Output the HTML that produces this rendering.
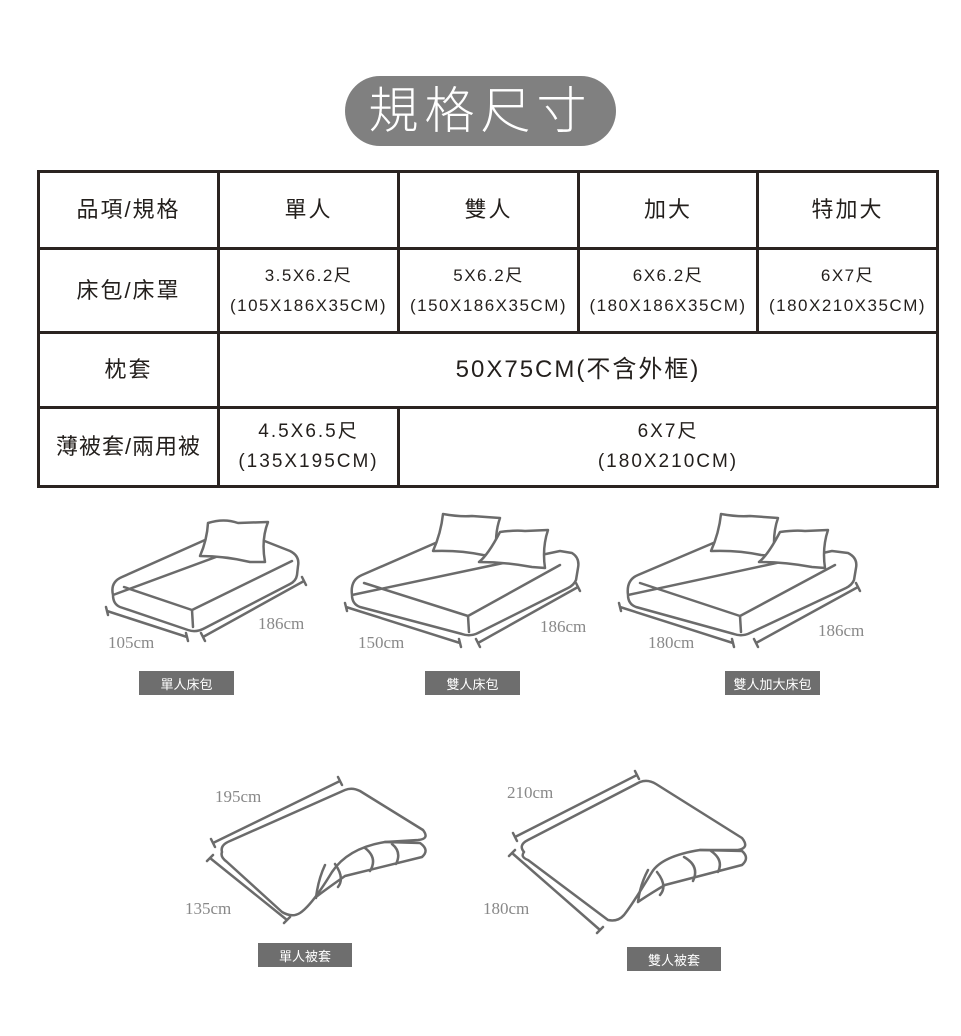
<!DOCTYPE html>
<html><head><meta charset="utf-8"><style>
body{margin:0;width:961px;height:1036px;background:#fff;position:relative;overflow:hidden;font-family:"Liberation Sans","Noto Sans CJK TC",sans-serif;color:#231f1c}
.pill{position:absolute;left:345px;top:76px;width:271px;height:70px;border-radius:35px;background:#808080;color:#fff;font-size:50px;line-height:70px;text-align:center;letter-spacing:6px;font-weight:300}
.c{position:absolute;display:flex;align-items:center;justify-content:center;text-align:center;font-size:22px;letter-spacing:2px;line-height:30px}
.s{font-size:17px;letter-spacing:1.5px;line-height:30px}
.h{position:absolute;background:#2a2320}
.tag{position:absolute;background:#6e6e6e;color:#fff;font-size:13px;display:flex;align-items:center;justify-content:center;height:24px}
</style></head><body>
<div class="pill">規格尺寸</div>
<div class="h" style="left:37px;top:170px;width:902px;height:3px"></div>
<div class="h" style="left:37px;top:247px;width:902px;height:3px"></div>
<div class="h" style="left:37px;top:331px;width:902px;height:3px"></div>
<div class="h" style="left:37px;top:406px;width:902px;height:3px"></div>
<div class="h" style="left:37px;top:485px;width:902px;height:3px"></div>
<div class="h" style="left:37px;top:170px;width:3px;height:318px"></div>
<div class="h" style="left:217px;top:170px;width:3px;height:318px"></div>
<div class="h" style="left:397px;top:170px;width:3px;height:163px"></div>
<div class="h" style="left:397px;top:406px;width:3px;height:82px"></div>
<div class="h" style="left:577px;top:170px;width:3px;height:163px"></div>
<div class="h" style="left:756px;top:170px;width:3px;height:163px"></div>
<div class="h" style="left:936px;top:170px;width:3px;height:318px"></div>

<div class="c" style="left:40px;top:173px;width:177px;height:74px">品項/規格</div>
<div class="c" style="left:220px;top:173px;width:177px;height:74px">單人</div>
<div class="c" style="left:400px;top:173px;width:177px;height:74px">雙人</div>
<div class="c" style="left:580px;top:173px;width:176px;height:74px">加大</div>
<div class="c" style="left:759px;top:173px;width:177px;height:74px">特加大</div>

<div class="c" style="left:40px;top:250px;width:177px;height:81px">床包/床罩</div>
<div class="c s" style="left:220px;top:250px;width:177px;height:81px">3.5X6.2尺<br>(105X186X35CM)</div>
<div class="c s" style="left:400px;top:250px;width:177px;height:81px">5X6.2尺<br>(150X186X35CM)</div>
<div class="c s" style="left:580px;top:250px;width:176px;height:81px">6X6.2尺<br>(180X186X35CM)</div>
<div class="c s" style="left:759px;top:250px;width:177px;height:81px">6X7尺<br>(180X210X35CM)</div>

<div class="c" style="left:40px;top:334px;width:177px;height:72px">枕套</div>
<div class="c" style="left:220px;top:334px;width:716px;height:72px;font-size:24px">50X75CM(不含外框)</div>

<div class="c" style="left:40px;top:409px;width:177px;height:76px;letter-spacing:1px">薄被套/兩用被</div>
<div class="c" style="left:220px;top:409px;width:177px;height:76px;font-size:19px">4.5X6.5尺<br>(135X195CM)</div>
<div class="c" style="left:400px;top:409px;width:536px;height:76px;font-size:19px">6X7尺<br>(180X210CM)</div>

<svg style="position:absolute;left:0;top:0" width="961" height="1036" fill="none" stroke="#6b6b6b" stroke-width="2.5" stroke-linejoin="round" stroke-linecap="round" font-family="Liberation Serif,serif" font-size="17">
<!-- single bed -->
<path d="M113,595 Q110,582 122,577 L205,540 M262,540 L290,551 Q300,556 298,566 L297,575 Q296,581 290,584 L205,628 Q196,633 188,630 L120,607 Q113,604 113,595 Z"/>
<path d="M124,587 L192,610 L193,627 M192,610 L292,561"/>
<path d="M208,523 Q224,518 238,523 L268,522 Q261,540 265,562 L250,562 Q225,556 200,556 Q207,540 208,523 Z" fill="#fff"/>
<path d="M107,611 L187,637 M106,607 L108,615 M186,633 L188,641 M203,637 L304,581 M201,633 L205,641 M302,577 L306,585"/>
<!-- double bed -->
<path d="M352,595 Q350,580 362,575 L440,541 M560,551 L572,553 Q580,558 578,568 L576,580 Q574,585 568,588 L478,633 Q470,637 462,634 L360,607 Q352,604 352,595 Z"/>
<path d="M364,583 L468,616 L469,632 M468,616 L560,565"/>
<path d="M443,514 Q460,517 472,516 L500,518 Q494,535 497,556 L483,555 Q460,550 433,551 Q441,533 443,514 Z" fill="#fff"/>
<path d="M500,532 Q515,530 525,531 L548,530 Q542,548 545,568 L532,567 Q505,562 479,562 Q488,555 500,532 Z" fill="#fff"/>
<path d="M346,607 L460,643 M345,603 L347,611 M459,639 L461,647 M478,643 L578,587 M476,639 L480,647 M576,583 L580,591"/>
<!-- extra large -->
<path d="M628,595 Q626,580 638,575 L718,541 M832,551 L848,553 Q858,558 856,568 L854,580 Q852,585 846,588 L750,633 Q742,637 734,634 L636,607 Q628,604 628,595 Z"/>
<path d="M640,583 L740,616 L741,632 M740,616 L835,565"/>
<path d="M721,514 Q738,517 750,516 L778,518 Q772,535 775,556 L761,555 Q738,550 711,551 Q719,533 721,514 Z" fill="#fff"/>
<path d="M780,532 Q795,530 805,531 L828,530 Q822,548 825,568 L812,567 Q785,562 759,562 Q768,555 780,532 Z" fill="#fff"/>
<path d="M620,607 L733,643 M619,603 L621,611 M732,639 L734,647 M756,643 L858,587 M754,639 L758,647 M856,583 L860,591"/>
<g fill="#888" stroke="none">
<text x="108" y="648">105cm</text><text x="258" y="629">186cm</text>
<text x="358" y="648">150cm</text><text x="540" y="632">186cm</text>
<text x="648" y="648">180cm</text><text x="818" y="636">186cm</text>
<text x="215" y="802">195cm</text><text x="185" y="914">135cm</text>
<text x="507" y="798">210cm</text><text x="483" y="914">180cm</text>
</g>
<!-- single duvet -->
<path d="M222,852 Q220,845 230,841 L345,790 Q352,787 360,791 L423,830 Q430,839 418,840 L385,842 Q348,848 332,872 Q312,905 300,913 Q292,918 282,912 L227,862 Q220,857 222,852 Z" fill="#fff"/>
<path d="M385,842 L420,843 Q430,850 422,857 L345,876 Q325,890 316,897 M335,864 Q345,878 338,887 M365,848 Q378,858 370,871 M392,844 Q402,852 396,864 M316,898 Q318,880 325,865"/>
<path d="M213,843 L340,781 M211,839 L215,847 M338,777 L342,785 M210,858 L287,920 M207,861 L213,855 M284,923 L290,917"/>
<!-- double duvet -->
<path d="M524,852 Q518,845 528,840 L640,782 Q648,779 656,784 L742,838 Q750,848 738,850 L700,850 Q662,856 652,872 Q632,905 624,915 Q618,922 608,920 L528,860 Q520,857 524,852 Z" fill="#fff"/>
<path d="M700,850 L742,851 Q750,858 742,865 L665,885 Q648,895 638,902 M657,872 Q668,886 660,895 M684,857 Q700,866 693,881 M711,851 Q724,860 718,872 M638,902 Q640,885 648,870"/>
<path d="M515,837 L637,775 M513,833 L517,841 M635,771 L639,779 M512,853 L600,930 M509,856 L515,850 M597,933 L603,927"/>
</svg>
<div class="tag" style="left:139px;top:671px;width:95px">單人床包</div>
<div class="tag" style="left:425px;top:671px;width:95px">雙人床包</div>
<div class="tag" style="left:725px;top:671px;width:95px">雙人加大床包</div>
<div class="tag" style="left:258px;top:943px;width:94px">單人被套</div>
<div class="tag" style="left:627px;top:947px;width:94px">雙人被套</div>
</body></html>
